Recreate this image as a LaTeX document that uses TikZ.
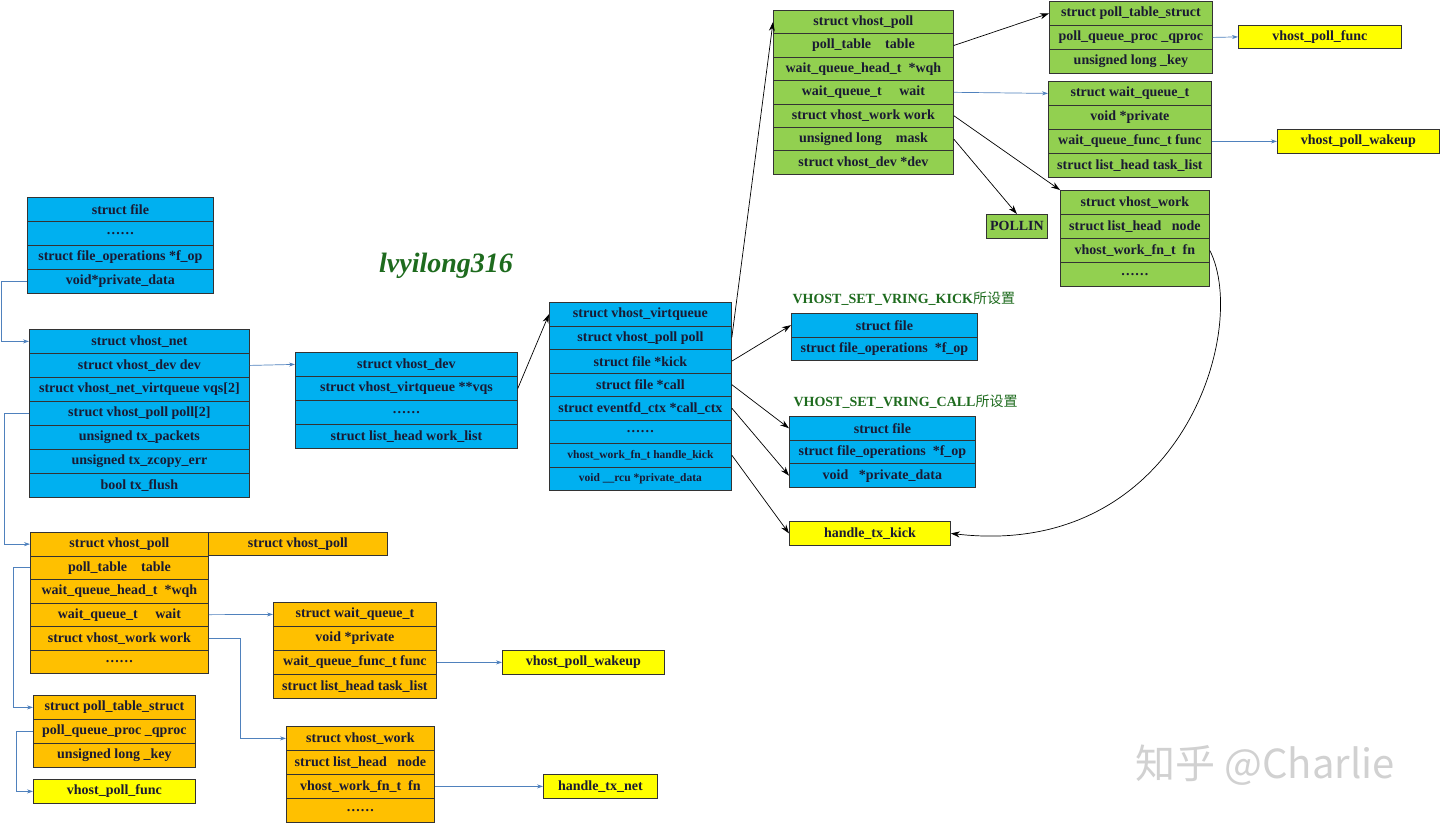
\documentclass[tikz,border=0pt]{standalone}
\usepackage{fontspec}
\setmainfont{Liberation Serif}
\newfontfamily\cjk{Noto Sans CJK SC}
\usetikzlibrary{arrows.meta}
\definecolor{cblue}{HTML}{00B0F0}
\definecolor{corange}{HTML}{FFC000}
\definecolor{cgreen}{HTML}{92D050}
\definecolor{cyellow}{HTML}{FFFF00}
\definecolor{lineblue}{HTML}{4F81BD}
\definecolor{dgreen}{HTML}{1E6B1E}
\definecolor{txt}{HTML}{1A1A33}
\newcommand\rec[7]{%
  \foreach \t [count=\i] in {#7}{%
    \node[cell,fill=#6,minimum width=#4pt,minimum height=#5pt] (#1-\i) at (#2,{#3+(\i-1)*#5}) {\t};
  }}
\begin{document}
\begin{tikzpicture}[x=1pt,y=-1pt,
  cell/.style={draw=black!80,line width=0.8pt,anchor=north west,inner sep=0pt,text=txt,font=\fontsize{14}{16}\selectfont\bfseries},
  barrow/.style={draw=lineblue,line width=0.7pt,-{Stealth[length=6pt,width=4pt]}},
  karrow/.style={draw=black,line width=0.7pt,-{Stealth[length=9pt,width=6pt]}}]
\useasboundingbox (0,0) rectangle (1440,823);
\fill[white] (0,0) rectangle (1440,823);
% blue structures
\rec{file}{27}{197}{186}{24}{cblue}{struct file,……,struct file\_operations *f\_op,void*private\_data}
\rec{net}{29}{329}{220}{24}{cblue}{struct vhost\_net,struct vhost\_dev dev,struct vhost\_net\_virtqueue vqs[2],struct vhost\_poll poll[2],unsigned tx\_packets,unsigned tx\_zcopy\_err,bool tx\_flush}
\rec{dev}{295}{352}{222}{24}{cblue}{struct vhost\_dev,struct vhost\_virtqueue **vqs,……,struct list\_head work\_list}
\rec{vq}{549}{302}{182}{23.5}{cblue}{struct vhost\_virtqueue,struct vhost\_poll poll,struct file *kick,struct file *call,struct eventfd\_ctx *call\_ctx,……,{\fontsize{11.5}{13}\selectfont vhost\_work\_fn\_t handle\_kick},{\fontsize{11.5}{13}\selectfont void \_\_rcu *private\_data}}
\rec{kf}{791}{313}{186}{23.5}{cblue}{struct file,struct file\_operations~~*f\_op}
\rec{cf}{789}{416}{186}{23.7}{cblue}{struct file,struct file\_operations~~*f\_op,void~~~*private\_data}
% green
\rec{gp}{773}{10}{180}{23.4}{cgreen}{struct vhost\_poll,poll\_table~~~~table,wait\_queue\_head\_t~~*wqh,wait\_queue\_t~~~~~wait,struct vhost\_work work,unsigned long~~~~mask,struct vhost\_dev *dev}
\rec{gpt}{1049}{1}{163}{24}{cgreen}{struct poll\_table\_struct,poll\_queue\_proc \_qproc,unsigned long \_key}
\rec{gwq}{1048}{81}{163}{24}{cgreen}{struct wait\_queue\_t,void *private,wait\_queue\_func\_t func,struct list\_head task\_list}
\rec{gw}{1060}{190}{149}{24}{cgreen}{struct vhost\_work,struct list\_head~~~node,vhost\_work\_fn\_t~~fn,……}
\rec{pollin}{986}{214}{61}{24}{cgreen}{POLLIN}
% yellow
\rec{ypf}{1238}{25}{163}{23}{cyellow}{vhost\_poll\_func}
\rec{ypw}{1277}{129}{162}{24}{cyellow}{vhost\_poll\_wakeup}
\rec{htk}{789}{521}{161}{24}{cyellow}{handle\_tx\_kick}
\rec{ypwb}{502}{650}{162}{24}{cyellow}{vhost\_poll\_wakeup}
\rec{ypfb}{33}{779}{162}{24}{cyellow}{vhost\_poll\_func}
\rec{htn}{543}{774}{114}{24}{cyellow}{handle\_tx\_net}
% orange
\rec{op}{30}{532}{178}{23.5}{corange}{struct vhost\_poll,poll\_table~~~~table,wait\_queue\_head\_t~~*wqh,wait\_queue\_t~~~~~wait,struct vhost\_work work,……}
\rec{opb}{208}{532}{179}{23}{corange}{struct vhost\_poll}
\rec{owq}{273}{602}{163}{24}{corange}{struct wait\_queue\_t,void *private,wait\_queue\_func\_t func,struct list\_head task\_list}
\rec{opt}{33}{695}{162}{24}{corange}{struct poll\_table\_struct,poll\_queue\_proc \_qproc,unsigned long \_key}
\rec{ow}{286}{726}{148}{24}{corange}{struct vhost\_work,struct list\_head~~~node,vhost\_work\_fn\_t~~fn,……}
% labels
\node[anchor=west,text=dgreen,font=\fontsize{14}{16}\selectfont\bfseries] (lk) at (789,299) {VHOST\_SET\_VRING\_KICK{\cjk\mdseries 所设置}};
\node[anchor=west,text=dgreen,font=\fontsize{14}{16}\selectfont\bfseries] (lc) at (790,402) {VHOST\_SET\_VRING\_CALL{\cjk\mdseries 所设置}};
\node[text=dgreen,font=\fontsize{28}{30}\selectfont\bfseries\itshape] (title) at (446,266) {lvyilong316};
\node[text=black!18,font=\fontsize{40}{44}\selectfont\cjk] (wm) at (1265,765) {知乎 @Charlie};
% blue connectors
\draw[barrow] (file-4.west) -- ++(-26,0) |- (net-1.west);
\draw[barrow] (net-2.east) -- (dev-1.west);
\draw[barrow] (net-4.west) -- ++(-25,0) |- (op-1.west);
\draw[barrow] (op-2.west) -- ++(-17,0) |- (opt-1.west);
\draw[barrow] (op-4.east) -- (owq-1.west);
\draw[barrow] (op-5.east) -- ++(32,0) |- (ow-1.west);
\draw[barrow] (owq-3.east) -- (ypwb-1.west);
\draw[barrow] (opt-2.west) -- ++(-17,0) |- (ypfb-1.west);
\draw[barrow] (ow-3.east) -- (htn-1.west);
\draw[barrow] (gpt-2.east) -- (ypf-1.west);
\draw[barrow] (gp-4.east) -- (gwq-1.west);
\draw[barrow] (gwq-3.east) -- (ypw-1.west);
% black connectors
\draw[karrow] (dev-2.east) -- (vq-1.west);
\draw[karrow] (vq-2.east) -- (gp-1.west);
\draw[karrow] (vq-3.east) -- (kf-1.west);
\draw[karrow] (vq-4.east) -- (cf-1.west);
\draw[karrow] (vq-5.east) -- (cf-3.west);
\draw[karrow] (vq-7.east) -- (htk-1.west);
\draw[karrow] (gp-2.east) -- (gpt-1.west);
\draw[karrow] (gp-5.east) -- (gw-1.north west);
\draw[karrow] (gp-6.east) -- (pollin-1.north);
\draw[karrow] (gw-3.east) .. controls (1250,330) and (1180,560) .. (htk-1.east);
\end{tikzpicture}
\end{document}
